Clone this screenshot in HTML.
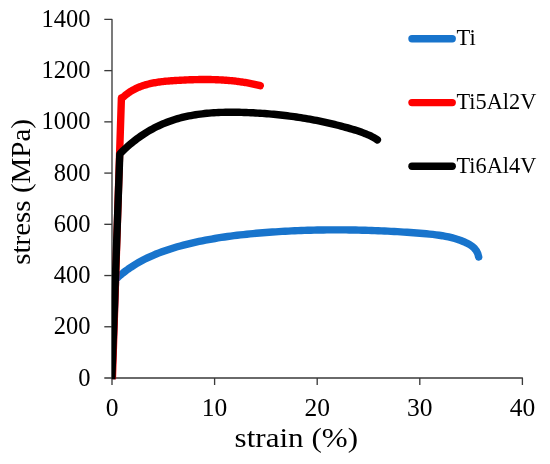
<!DOCTYPE html>
<html><head><meta charset="utf-8"><title>stress-strain</title>
<style>html,body{margin:0;padding:0;background:#fff;}body{width:550px;height:464px;overflow:hidden;}svg{display:block;}</style>
</head><body>
<svg width="550" height="464" viewBox="0 0 550 464">
<defs><clipPath id="pa"><rect x="111.7" y="10" width="420" height="369.2"/></clipPath><clipPath id="pb"><rect x="112.3" y="10" width="420" height="369.2"/></clipPath></defs>
<g stroke="#3a3a3a" fill="none" stroke-width="1.33" stroke-linecap="butt">
<path stroke-linejoin="round" d="M104.3,19.40 L112,19.40 L112,385"/>
<path stroke-linejoin="round" d="M104.3,378 L522.40,378 L522.40,385"/>
<path d="M104.3,326.77 L112,326.77"/>
<path d="M104.3,275.54 L112,275.54"/>
<path d="M104.3,224.32 L112,224.32"/>
<path d="M104.3,173.09 L112,173.09"/>
<path d="M104.3,121.86 L112,121.86"/>
<path d="M104.3,70.63 L112,70.63"/>
<path d="M214.60,378 L214.60,385"/>
<path d="M317.20,378 L317.20,385"/>
<path d="M419.80,378 L419.80,385"/>
</g>
<g clip-path="url(#pa)" fill="none" stroke-width="7.4" stroke-linecap="round" stroke-linejoin="round">
<path stroke="#1874CC" clip-path="url(#pb)" d="M111.80,379.00 L115.60,279.40 L118.02,277.18 L120.49,275.05 L123.00,273.00 L125.55,271.02 L128.15,269.13 L130.79,267.32 L133.47,265.57 L136.19,263.90 L138.94,262.30 L141.73,260.77 L144.55,259.30 L147.40,257.90 L150.28,256.55 L153.19,255.26 L156.13,254.03 L159.09,252.86 L162.07,251.73 L165.07,250.66 L168.10,249.63 L171.14,248.65 L174.20,247.71 L177.28,246.81 L180.37,245.95 L183.47,245.12 L186.58,244.33 L189.70,243.57 L192.82,242.84 L195.95,242.14 L199.09,241.47 L202.24,240.82 L205.39,240.20 L208.54,239.60 L211.70,239.03 L214.87,238.49 L218.04,237.97 L221.21,237.47 L224.39,236.99 L227.57,236.53 L230.76,236.10 L233.95,235.69 L237.14,235.29 L240.33,234.92 L243.53,234.56 L246.73,234.22 L249.93,233.89 L253.13,233.59 L256.33,233.29 L259.54,233.02 L262.74,232.75 L265.95,232.50 L269.15,232.26 L272.36,232.04 L275.56,231.82 L278.76,231.62 L281.97,231.42 L285.17,231.24 L288.38,231.07 L291.58,230.92 L294.78,230.77 L297.99,230.63 L301.19,230.51 L304.39,230.40 L307.59,230.29 L310.80,230.20 L314.00,230.12 L317.20,230.05 L320.41,229.99 L323.61,229.95 L326.81,229.91 L330.02,229.88 L333.22,229.87 L336.43,229.86 L339.63,229.87 L342.83,229.88 L346.04,229.91 L349.24,229.94 L352.45,229.99 L355.66,230.05 L358.86,230.11 L362.07,230.19 L365.28,230.28 L368.49,230.37 L371.69,230.48 L374.90,230.60 L378.11,230.72 L381.32,230.86 L384.53,231.00 L387.74,231.16 L390.96,231.33 L394.17,231.50 L397.38,231.68 L400.60,231.88 L403.81,232.08 L407.03,232.29 L410.25,232.52 L413.46,232.75 L416.68,232.99 L419.90,233.24 L423.12,233.49 L426.34,233.77 L429.55,234.08 L432.76,234.41 L435.96,234.80 L439.14,235.23 L442.31,235.73 L445.45,236.30 L448.58,236.95 L451.68,237.69 L454.76,238.52 L457.80,239.46 L460.81,240.52 L463.79,241.70 L466.71,243.02 L469.52,244.53 L472.11,246.29 L474.41,248.36 L476.34,250.79 L477.79,253.65 L478.70,257.00"/>
<path stroke="#FF0000" clip-path="url(#pb)" d="M112.40,379.00 L121.40,97.80 L123.00,97.30 L123.90,96.47 L124.82,95.67 L125.75,94.91 L126.69,94.16 L127.65,93.45 L128.61,92.76 L129.59,92.10 L130.58,91.46 L131.58,90.85 L132.59,90.26 L133.61,89.70 L134.64,89.16 L135.68,88.64 L136.73,88.14 L137.78,87.67 L138.85,87.21 L139.93,86.78 L141.01,86.37 L142.10,85.97 L143.20,85.60 L144.31,85.24 L145.42,84.90 L146.54,84.58 L147.67,84.27 L148.81,83.98 L149.95,83.71 L151.10,83.45 L152.25,83.20 L153.41,82.97 L154.57,82.76 L155.74,82.55 L156.91,82.36 L158.09,82.18 L159.27,82.01 L160.45,81.85 L161.64,81.70 L162.83,81.56 L164.03,81.42 L165.22,81.30 L166.42,81.19 L167.62,81.08 L168.83,80.98 L170.03,80.88 L171.24,80.79 L172.45,80.70 L173.65,80.62 L174.86,80.55 L176.07,80.47 L177.28,80.40 L178.49,80.34 L179.70,80.27 L180.91,80.20 L182.11,80.14 L183.32,80.08 L184.53,80.03 L185.73,79.97 L186.94,79.92 L188.14,79.87 L189.35,79.82 L190.55,79.78 L191.76,79.74 L192.96,79.70 L194.16,79.67 L195.36,79.64 L196.56,79.61 L197.76,79.58 L198.96,79.56 L200.16,79.55 L201.36,79.53 L202.56,79.52 L203.76,79.52 L204.96,79.52 L206.15,79.52 L207.35,79.52 L208.54,79.53 L209.74,79.55 L210.93,79.57 L212.12,79.59 L213.32,79.62 L214.51,79.66 L215.70,79.70 L216.89,79.74 L218.08,79.79 L219.27,79.84 L220.45,79.90 L221.64,79.96 L222.83,80.03 L224.01,80.11 L225.20,80.19 L226.38,80.28 L227.56,80.37 L228.75,80.47 L229.93,80.57 L231.11,80.68 L232.29,80.80 L233.47,80.92 L234.64,81.05 L235.82,81.19 L237.00,81.33 L238.17,81.48 L239.34,81.63 L240.52,81.80 L241.69,81.97 L242.86,82.14 L244.03,82.33 L245.20,82.52 L246.37,82.72 L247.53,82.92 L248.70,83.13 L249.87,83.35 L251.03,83.58 L252.19,83.82 L253.35,84.06 L254.51,84.32 L255.67,84.58 L256.83,84.84 L257.99,85.12 L259.15,85.41 L260.30,85.70"/>
<path stroke="#000000" d="M111.80,379.00 L119.80,154.00 L121.40,152.36 L123.02,150.74 L124.68,149.16 L126.36,147.59 L128.07,146.06 L129.81,144.55 L131.57,143.07 L133.36,141.62 L135.17,140.21 L137.01,138.82 L138.87,137.46 L140.75,136.14 L142.66,134.85 L144.59,133.60 L146.53,132.37 L148.50,131.19 L150.49,130.04 L152.49,128.92 L154.52,127.85 L156.56,126.81 L158.62,125.81 L160.69,124.85 L162.78,123.93 L164.88,123.05 L167.00,122.21 L169.13,121.42 L171.27,120.66 L173.43,119.94 L175.60,119.26 L177.78,118.62 L179.97,118.02 L182.17,117.45 L184.38,116.92 L186.61,116.42 L188.84,115.95 L191.08,115.51 L193.33,115.11 L195.58,114.74 L197.84,114.40 L200.11,114.08 L202.39,113.80 L204.67,113.54 L206.96,113.30 L209.25,113.10 L211.55,112.91 L213.85,112.75 L216.16,112.62 L218.47,112.50 L220.78,112.41 L223.09,112.34 L225.40,112.28 L227.72,112.24 L230.04,112.23 L232.35,112.22 L234.67,112.24 L236.98,112.27 L239.30,112.31 L241.61,112.37 L243.92,112.44 L246.23,112.52 L248.54,112.61 L250.84,112.71 L253.14,112.82 L255.43,112.94 L257.72,113.07 L260.01,113.22 L262.30,113.37 L264.58,113.54 L266.87,113.71 L269.15,113.90 L271.42,114.10 L273.70,114.30 L275.97,114.52 L278.24,114.76 L280.50,115.00 L282.77,115.25 L285.03,115.52 L287.29,115.79 L289.55,116.08 L291.81,116.38 L294.06,116.69 L296.31,117.02 L298.56,117.35 L300.81,117.70 L303.06,118.06 L305.31,118.44 L307.56,118.82 L309.80,119.22 L312.04,119.63 L314.29,120.05 L316.53,120.48 L318.77,120.93 L321.00,121.39 L323.24,121.86 L325.48,122.35 L327.72,122.85 L329.95,123.36 L332.19,123.89 L334.42,124.42 L336.66,124.97 L338.89,125.54 L341.13,126.12 L343.36,126.71 L345.59,127.32 L347.83,127.94 L350.06,128.57 L352.29,129.22 L354.51,129.90 L356.72,130.59 L358.91,131.32 L361.09,132.07 L363.25,132.86 L365.38,133.68 L367.49,134.55 L369.56,135.45 L371.60,136.42 L373.59,137.47 L375.53,138.62 L377.40,139.90"/>
</g>
<g font-family='"Liberation Serif", "DejaVu Serif", serif' font-size="24.5" fill="#000">
<text x="90.6" y="385.50" text-anchor="end">0</text>
<text x="90.6" y="334.27" text-anchor="end">200</text>
<text x="90.6" y="283.04" text-anchor="end">400</text>
<text x="90.6" y="231.82" text-anchor="end">600</text>
<text x="90.6" y="180.59" text-anchor="end">800</text>
<text x="90.6" y="129.36" text-anchor="end">1000</text>
<text x="90.6" y="78.13" text-anchor="end">1200</text>
<text x="90.6" y="26.90" text-anchor="end">1400</text>
<text x="112.00" y="415.6" font-size="25.5" text-anchor="middle">0</text>
<text x="214.60" y="415.6" font-size="25.5" text-anchor="middle">10</text>
<text x="317.20" y="415.6" font-size="25.5" text-anchor="middle">20</text>
<text x="419.80" y="415.6" font-size="25.5" text-anchor="middle">30</text>
<text x="522.40" y="415.6" font-size="25.5" text-anchor="middle">40</text>
</g>
<text font-family='"Liberation Serif", "DejaVu Serif", serif' font-size="27.5" x="234.6" y="447.2" textLength="123.4" lengthAdjust="spacingAndGlyphs">strain (%)</text>
<text font-family='"Liberation Serif", "DejaVu Serif", serif' font-size="27.5" transform="translate(29.6,264.8) rotate(-90)" x="0" y="0" textLength="145.8" lengthAdjust="spacingAndGlyphs">stress (MPa)</text>
<path d="M412,38.8 L452.2,38.8" stroke="#1874CC" stroke-width="7.4" stroke-linecap="round"/>
<text font-family='"Liberation Serif", "DejaVu Serif", serif' font-size="22.5" x="456.5" y="45.1">Ti</text>
<path d="M412,102.6 L452.2,102.6" stroke="#FF0000" stroke-width="7.4" stroke-linecap="round"/>
<text font-family='"Liberation Serif", "DejaVu Serif", serif' font-size="22.5" x="456.5" y="109.2" textLength="79.8" lengthAdjust="spacingAndGlyphs">Ti5Al2V</text>
<path d="M412,166.3 L452.2,166.3" stroke="#000000" stroke-width="7.4" stroke-linecap="round"/>
<text font-family='"Liberation Serif", "DejaVu Serif", serif' font-size="22.5" x="456.5" y="172.9" textLength="79.8" lengthAdjust="spacingAndGlyphs">Ti6Al4V</text>
</svg>
</body></html>
